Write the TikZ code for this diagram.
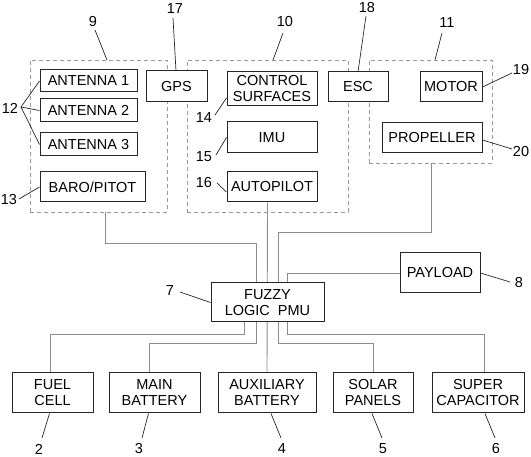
\documentclass[tikz,border=0pt]{standalone}
\usepackage{fontspec}
\setmainfont{Liberation Sans}
\usetikzlibrary{backgrounds}
\newcommand\myfs{\fontsize{14.5}{16}\selectfont}
\begin{document}
\begin{tikzpicture}[x=1pt,y=-1pt,
  box/.style={draw=black!85, line width=1pt, fill=white, inner sep=0pt, align=center, font=\myfs},
  grp/.style={draw=black!40, dash pattern=on 4pt off 3pt, line width=0.8pt, inner sep=0pt},
  conn/.style={draw=black!45, line width=0.9pt},
  lead/.style={draw=black!85, line width=0.7pt},
  num/.style={inner sep=0pt, font=\myfs}]
\useasboundingbox (0,0) rectangle (531,457);

% groups
\node[grp, minimum width=137pt, minimum height=152pt] (g9) at (98.5,136) {};
\node[grp, minimum width=161pt, minimum height=152pt] (g10) at (267.5,136) {};
\node[grp, minimum width=123pt, minimum height=103pt] (g11) at (430.5,111.5) {};

% boxes
\node[box, minimum width=97pt, minimum height=22pt] (ant1) at (88.5,81) {ANTENNA 1};
\node[box, minimum width=97pt, minimum height=23pt] (ant2) at (88.5,110.5) {ANTENNA 2};
\node[box, minimum width=97pt, minimum height=23pt] (ant3) at (88.5,144.5) {ANTENNA 3};
\node[box, minimum width=105pt, minimum height=30pt] (baro) at (92.5,187) {BARO/PITOT};
\node[box, minimum width=61pt, minimum height=31pt] (gps) at (176.5,86.5) {GPS};
\node[box, minimum width=90pt, minimum height=34pt] (ctrl) at (272,89) {CONTROL\\SURFACES};
\node[box, minimum width=90pt, minimum height=31pt] (imu) at (272,137.5) {IMU};
\node[box, minimum width=90pt, minimum height=30pt] (autopilot) at (272,187) {AUTOPILOT};
\node[box, minimum width=60pt, minimum height=30pt] (esc) at (358,87) {ESC};
\node[box, minimum width=62pt, minimum height=30pt] (motor) at (451,87) {MOTOR};
\node[box, minimum width=100pt, minimum height=30pt] (prop) at (432,138) {PROPELLER};
\node[box, minimum width=80pt, minimum height=40pt] (payload) at (440,273) {PAYLOAD};
\node[box, minimum width=113pt, minimum height=39pt] (pmu) at (267.5,302.5) {FUZZY\\LOGIC\ \ PMU};
\node[box, minimum width=81pt, minimum height=40pt] (fuel) at (52.5,393) {FUEL\\CELL};
\node[box, minimum width=91pt, minimum height=40pt] (main) at (154.5,393) {MAIN\\BATTERY};
\node[box, minimum width=98pt, minimum height=40pt] (aux) at (267,393) {AUXILIARY\\BATTERY};
\node[box, minimum width=80pt, minimum height=40pt] (solar) at (373,393) {SOLAR\\PANELS};
\node[box, minimum width=92pt, minimum height=40pt] (super) at (478,393) {SUPER\\CAPACITOR};

% connectors
\coordinate (b9) at (105,212);
\coordinate (b11) at (431,163);
\begin{scope}[on background layer]
\draw[conn] (b9) -- ++(0,31) -| ([xshift=-11pt]pmu.north);
\draw[conn] (autopilot.south -| pmu.north) -- (aux.north);
\draw[conn] (b11) -- ++(0,69) -| ([xshift=11pt]pmu.north);
\draw[conn] (payload.west) -| ([xshift=20pt]pmu.north);
\draw[conn] ([xshift=-23pt]pmu.south) -- ++(0,12) -| ([xshift=-2pt]fuel.north);
\draw[conn] ([xshift=-11pt]pmu.south) -- ++(0,21) -| ([xshift=-5pt]main.north);
\draw[conn] ([xshift=11pt]pmu.south) -- ++(0,21) -| (solar.north);
\draw[conn] ([xshift=20pt]pmu.south) -- ++(0,12) -| ([xshift=6pt]super.north);
\end{scope}

% number labels
\node[num] (n9) at (93,22) {9};
\node[num] (n17) at (175,9) {17};
\node[num] (n10) at (285,22) {10};
\node[num] (n18) at (367,8) {18};
\node[num] (n11) at (447,23) {11};
\node[num] (n19) at (521,70) {19};
\node[num] (n20) at (521,152) {20};
\node[num] (n12) at (10,108) {12};
\node[num] (n13) at (9,200) {13};
\node[num] (n14) at (204,118) {14};
\node[num] (n15) at (204,157) {15};
\node[num] (n16) at (204,183) {16};
\node[num] (n7) at (170,291) {7};
\node[num] (n8) at (519,283) {8};
\node[num] (n2) at (39,449) {2};
\node[num] (n3) at (139,449) {3};
\node[num] (n4) at (282,449) {4};
\node[num] (n5) at (383,449) {5};
\node[num] (n6) at (496,449) {6};

% leaders
\draw[lead] (95,30) -- (107,60);
\draw[lead] (173,18) -- (176,71);
\draw[lead] (283,33) -- (273,60);
\draw[lead] (366,16) -- (358,72);
\draw[lead] (442,33) -- (435,60);
\draw[lead] (512,73) -- (motor.east);
\draw[lead] (512,149) -- ([yshift=-2pt]prop.east);
\draw[lead] (21,107) -- (ant1.west);
\draw[lead] (21,107) -- (ant2.west);
\draw[lead] (21,107) -- (ant3.west);
\draw[lead] (19,199) -- (baro.west);
\draw[lead] (215,115) -- ([yshift=-9pt]ctrl.west);
\draw[lead] (216,155) -- (imu.west);
\draw[lead] (217,183) -- ([yshift=-5pt]autopilot.west);
\draw[lead] (180,292) -- (pmu.west);
\draw[lead] (510,282) -- (payload.east);
\draw[lead] (42,438) -- ([xshift=-3pt]fuel.south);
\draw[lead] (142,438) -- ([xshift=-6pt]main.south);
\draw[lead] (281,438) -- ([xshift=4pt]aux.south);
\draw[lead] (382,438) -- ([xshift=-1pt]solar.south);
\draw[lead] (495,438) -- ([xshift=7pt]super.south);
\end{tikzpicture}
\end{document}
